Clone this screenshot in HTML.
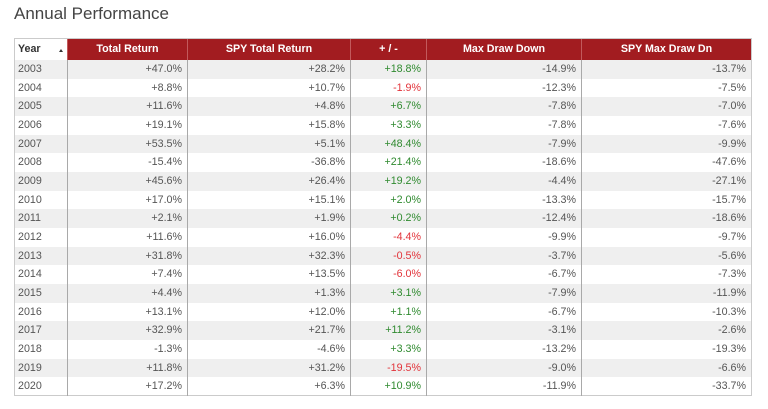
<!DOCTYPE html>
<html><head><meta charset="utf-8"><style>
*{margin:0;padding:0;box-sizing:border-box}
html,body{width:768px;height:409px;background:#fff;overflow:hidden;font-family:"Liberation Sans",Arial,sans-serif}
.title{position:absolute;left:14px;top:4.6px;font-size:17px;line-height:17px;color:#444;white-space:nowrap}
.tbl{position:absolute;left:14px;top:38px;width:738px;height:358px;border:1px solid #cbcbcb;display:grid;grid-template-columns:52px 120px 163px 76px 155px 170px;grid-template-rows:21px repeat(18,18.667px)}
.c{font-size:10.7px;color:#555;line-height:18.667px;text-align:right;padding-right:5px;border-left:1px solid #a9a9a9;white-space:nowrap;overflow:hidden}
.c.y{border-left:none;text-align:left;padding-left:3px}
.s{background:#efefef}
.h{background:#a21c20;color:#fff;font-weight:bold;text-align:center;line-height:21px;padding:0;border-left:1px solid #c25a5c;font-size:10.7px}
.hy{background:#fff;color:#333;font-weight:bold;text-align:left;padding-left:3px;line-height:21px;font-size:10.7px;position:relative}
.arr{position:absolute;left:44px;top:10px;width:0;height:0;border-left:2px solid transparent;border-right:2px solid transparent;border-bottom:3px solid #333}
.g{color:#2f8a2f}.r{color:#e2333a}
</style></head><body>
<div class="title">Annual Performance</div>
<div class="tbl">
<div class="hy">Year<span class="arr"></span></div><div class="c h">Total Return</div><div class="c h">SPY Total Return</div><div class="c h">+ / -</div><div class="c h">Max Draw Down</div><div class="c h">SPY Max Draw Dn</div>

<div class="c y s">2003</div><div class="c s">+47.0%</div><div class="c s">+28.2%</div><div class="c s g">+18.8%</div><div class="c s">-14.9%</div><div class="c s">-13.7%</div>
<div class="c y">2004</div><div class="c">+8.8%</div><div class="c">+10.7%</div><div class="c r">-1.9%</div><div class="c">-12.3%</div><div class="c">-7.5%</div>
<div class="c y s">2005</div><div class="c s">+11.6%</div><div class="c s">+4.8%</div><div class="c s g">+6.7%</div><div class="c s">-7.8%</div><div class="c s">-7.0%</div>
<div class="c y">2006</div><div class="c">+19.1%</div><div class="c">+15.8%</div><div class="c g">+3.3%</div><div class="c">-7.8%</div><div class="c">-7.6%</div>
<div class="c y s">2007</div><div class="c s">+53.5%</div><div class="c s">+5.1%</div><div class="c s g">+48.4%</div><div class="c s">-7.9%</div><div class="c s">-9.9%</div>
<div class="c y">2008</div><div class="c">-15.4%</div><div class="c">-36.8%</div><div class="c g">+21.4%</div><div class="c">-18.6%</div><div class="c">-47.6%</div>
<div class="c y s">2009</div><div class="c s">+45.6%</div><div class="c s">+26.4%</div><div class="c s g">+19.2%</div><div class="c s">-4.4%</div><div class="c s">-27.1%</div>
<div class="c y">2010</div><div class="c">+17.0%</div><div class="c">+15.1%</div><div class="c g">+2.0%</div><div class="c">-13.3%</div><div class="c">-15.7%</div>
<div class="c y s">2011</div><div class="c s">+2.1%</div><div class="c s">+1.9%</div><div class="c s g">+0.2%</div><div class="c s">-12.4%</div><div class="c s">-18.6%</div>
<div class="c y">2012</div><div class="c">+11.6%</div><div class="c">+16.0%</div><div class="c r">-4.4%</div><div class="c">-9.9%</div><div class="c">-9.7%</div>
<div class="c y s">2013</div><div class="c s">+31.8%</div><div class="c s">+32.3%</div><div class="c s r">-0.5%</div><div class="c s">-3.7%</div><div class="c s">-5.6%</div>
<div class="c y">2014</div><div class="c">+7.4%</div><div class="c">+13.5%</div><div class="c r">-6.0%</div><div class="c">-6.7%</div><div class="c">-7.3%</div>
<div class="c y s">2015</div><div class="c s">+4.4%</div><div class="c s">+1.3%</div><div class="c s g">+3.1%</div><div class="c s">-7.9%</div><div class="c s">-11.9%</div>
<div class="c y">2016</div><div class="c">+13.1%</div><div class="c">+12.0%</div><div class="c g">+1.1%</div><div class="c">-6.7%</div><div class="c">-10.3%</div>
<div class="c y s">2017</div><div class="c s">+32.9%</div><div class="c s">+21.7%</div><div class="c s g">+11.2%</div><div class="c s">-3.1%</div><div class="c s">-2.6%</div>
<div class="c y">2018</div><div class="c">-1.3%</div><div class="c">-4.6%</div><div class="c g">+3.3%</div><div class="c">-13.2%</div><div class="c">-19.3%</div>
<div class="c y s">2019</div><div class="c s">+11.8%</div><div class="c s">+31.2%</div><div class="c s r">-19.5%</div><div class="c s">-9.0%</div><div class="c s">-6.6%</div>
<div class="c y">2020</div><div class="c">+17.2%</div><div class="c">+6.3%</div><div class="c g">+10.9%</div><div class="c">-11.9%</div><div class="c">-33.7%</div>
</div>
</body></html>
